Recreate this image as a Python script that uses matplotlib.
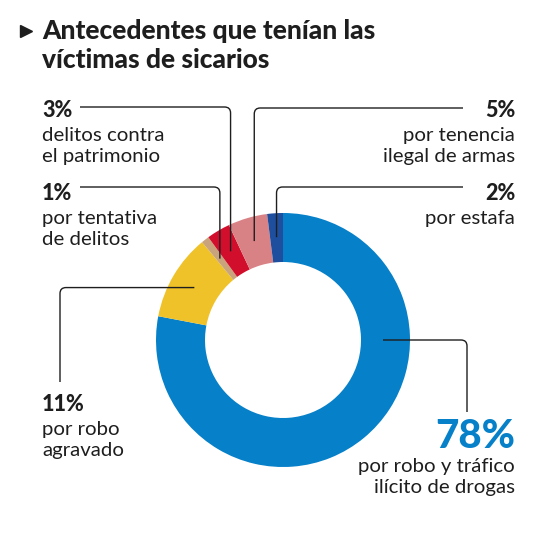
import numpy as np
import matplotlib.pyplot as plt
from matplotlib.path import Path
from matplotlib.patches import PathPatch

# data (clockwise from top)
shares = [78, 11, 1, 3, 5, 2]
pct_labels = ['78%', '11%', '1%', '3%', '5%', '2%']
descs = [['por robo y tráfico', 'ilícito de drogas'],
         ['por robo', 'agravado'],
         ['por tentativa', 'de delitos'],
         ['delitos contra', 'el patrimonio'],
         ['por tenencia', 'ilegal de armas'],
         ['por estafa']]
colors = ['#0680c8', '#efc22a', '#c8a37c', '#d10f2c', '#d98286', '#1d4f9e']
title = 'Antecedentes que tenían las\nvíctimas de sicarios'

plt.rcParams['font.family'] = ['Lato', 'DejaVu Sans']
ink = '#1e1e1e'

fig = plt.figure(figsize=(5.38, 5.5), dpi=100)
ax = fig.add_axes([0, 0, 1, 1])

cx, cy, R, W = 283, 340, 127, 49
# y axis is inverted below, so data-ccw is visually clockwise
ax.pie(shares, colors=colors, startangle=-90, counterclock=True,
       radius=R, center=(cx, cy), wedgeprops=dict(width=W, linewidth=0))
ax.set_xlim(0, 538)
ax.set_ylim(550, 0)
ax.set_aspect('equal')
ax.axis('off')

# anchor point in the middle of each slice (visual coords, y down)
cum = np.cumsum([0] + shares[:-1])
mid = 90 - 360 * (cum + np.array(shares) / 2) / 100
rm = 103
anchors = [(cx + rm * np.cos(np.radians(a)), cy - rm * np.sin(np.radians(a))) for a in mid]


def leader(pts, r=6):
    verts = [pts[0]]
    codes = [Path.MOVETO]
    for p0, p1, p2 in zip(pts[:-2], pts[1:-1], pts[2:]):
        p0, p1, p2 = map(np.array, (p0, p1, p2))
        u1 = (p1 - p0) / np.linalg.norm(p1 - p0)
        u2 = (p2 - p1) / np.linalg.norm(p2 - p1)
        verts += [p1 - r * u1, p1, p1 + r * u2]
        codes += [Path.LINETO, Path.CURVE3, Path.CURVE3]
    verts.append(pts[-1])
    codes.append(Path.LINETO)
    ax.add_patch(PathPatch(Path(verts, codes), fill=False, lw=1.0, ec=ink,
                           capstyle='butt'))


# blue slice: leader from the ring at 3 o'clock
leader([(cx + 100, cy), (467, cy), (467, 412)])
# yellow
ax_, ay_ = anchors[1]
leader([(60, 382), (60, ay_), (ax_, ay_)])
# tan, red (left side), pink, dark blue (right side)
for i, (x0, yh) in zip([2, 3, 4, 5], [(80, 187), (80, 107), (463, 108), (463, 187)]):
    axx, ayy = anchors[i]
    leader([(x0, yh), (axx, yh), (axx, ayy)])

# text blocks: (x, baseline of pct, ha)
blocks = {0: (515, 448, 'right'), 1: (42, 411, 'left'), 2: (42, 200, 'left'),
          3: (42, 117, 'left'), 4: (515, 117, 'right'), 5: (515, 200, 'right')}
for i, (x, yb, ha) in blocks.items():
    if i == 0:
        ax.text(x, yb, pct_labels[i], ha=ha, va='baseline', fontsize=29,
                fontweight='black', color=colors[0])
    else:
        ax.text(x, yb, pct_labels[i], ha=ha, va='baseline', fontsize=15.5,
                fontweight='black', color=ink)
    for k, line in enumerate(descs[i]):
        ax.text(x, yb + 24 + 21 * k, line, ha=ha, va='baseline',
                fontsize=14.7, color=ink)

# title
ax.plot([26], [31], marker='>', ms=8, color=ink)
t1, t2 = title.split('\n')
ax.text(42, 39, t1, ha='left', va='baseline', fontsize=19, fontweight='black', color=ink)
ax.text(42, 68, t2, ha='left', va='baseline', fontsize=19, fontweight='black', color=ink)

fig.savefig('out.png', dpi=100, facecolor='white')
